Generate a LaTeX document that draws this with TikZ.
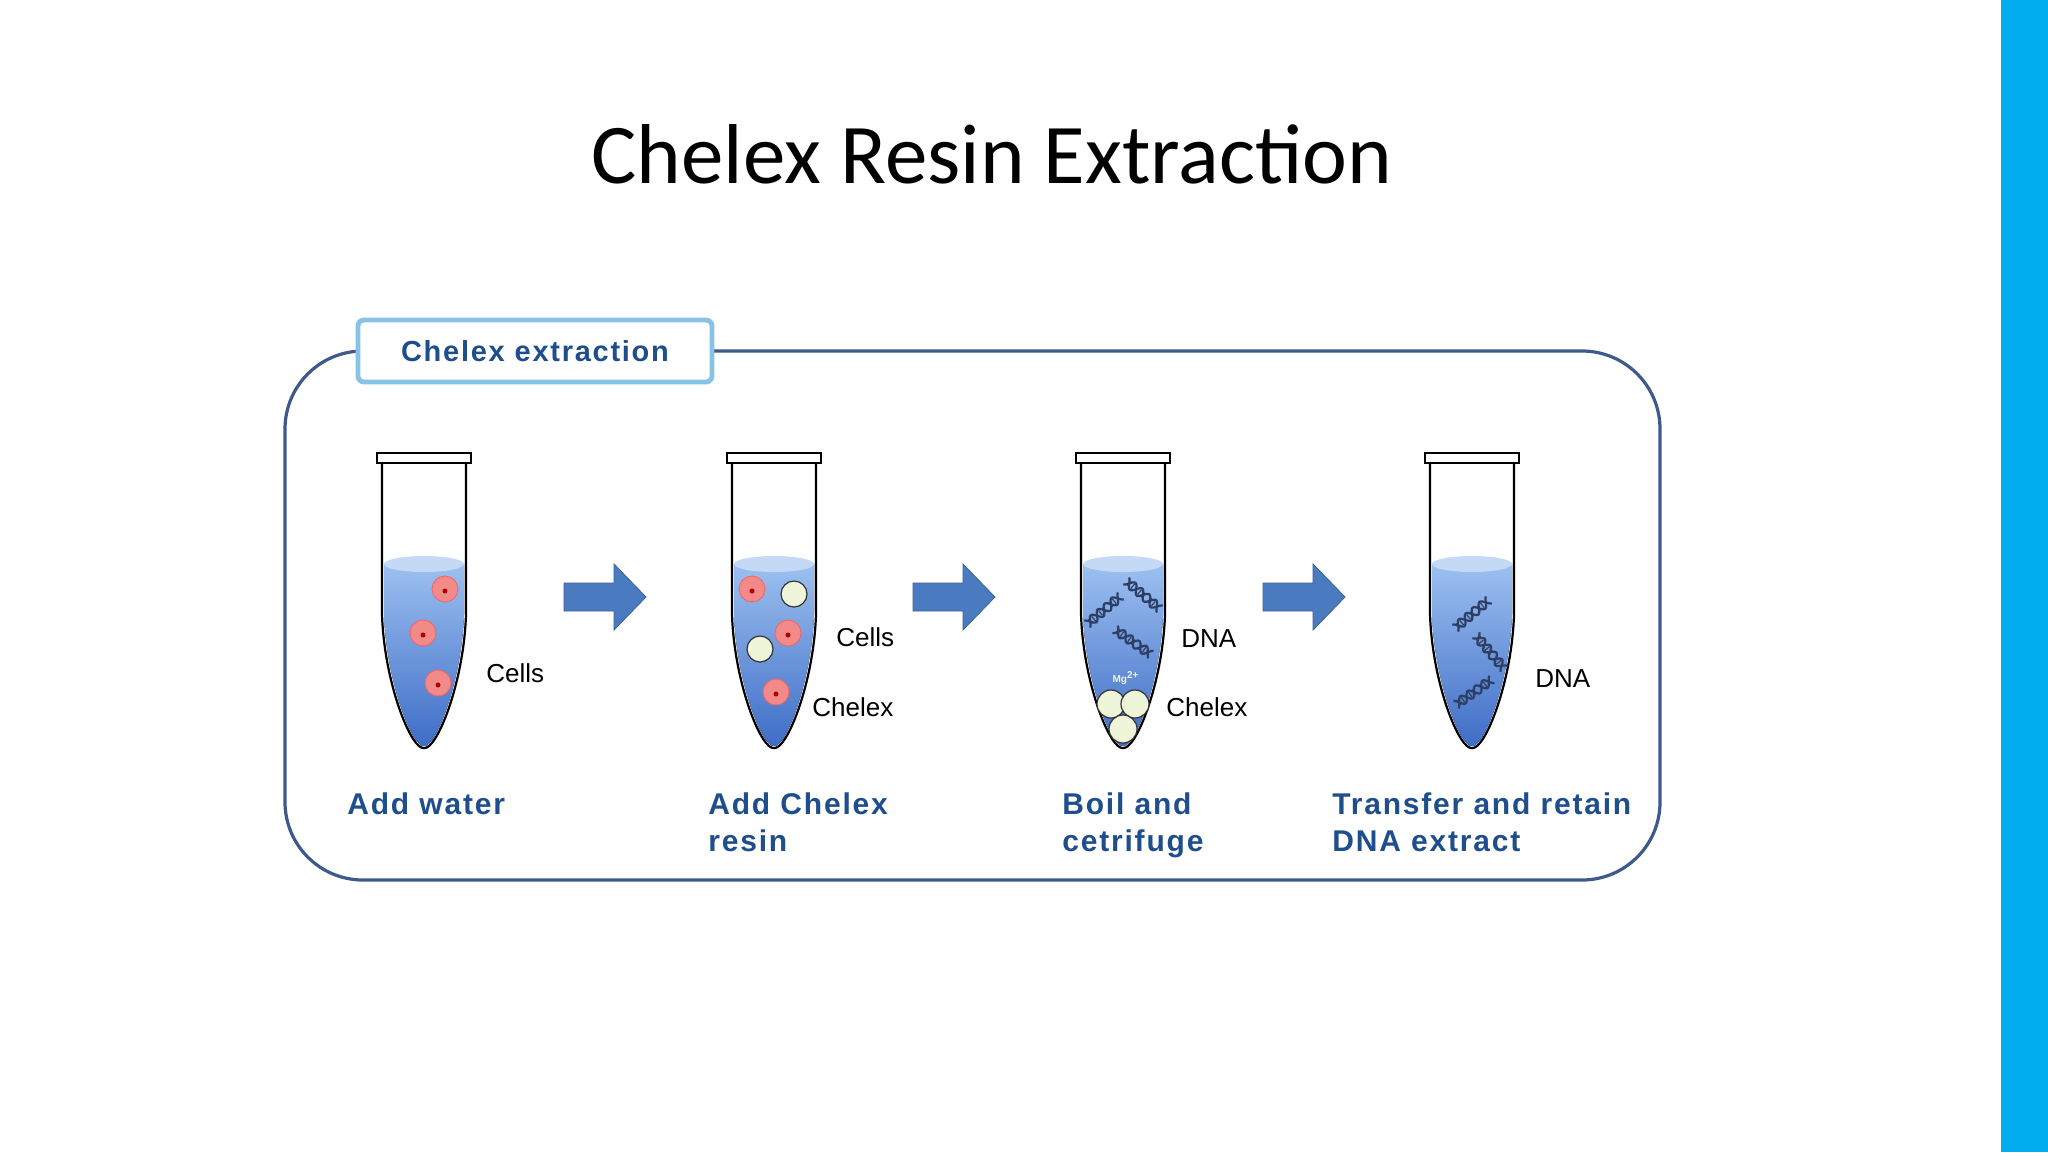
\documentclass[tikz,border=0pt]{standalone}
\usepackage{fontspec}
\setmainfont{Liberation Sans}
\newfontfamily\titlefont{Carlito}
\newfontfamily\widebold[LetterSpace=6]{Liberation Sans}
\begin{document}
\begin{tikzpicture}[x=0.5pt,y=-0.5pt,
  frameline/.style={draw=frameblue,line width=1.6pt},
  steplabel/.style={anchor=north west,align=left,font=\widebold\fontsize{15}{18.5}\selectfont\bfseries,text=labelblue,inner sep=0pt},
  sidelabel/.style={anchor=west,font=\fontsize{13}{15}\selectfont,inner sep=0pt},
  cell/.style={fill=cellpink,draw=cellpink!70!red},
  bead/.style={fill=beadcol,draw=black!80,line width=0.6pt},
  flowarrow/.style={fill=arrowblue,draw=arrowblue!80!black,line width=0.4pt},
  dnahelix/.pic={
    \draw[helixcol,line width=1.1pt,domain=-22:22,samples=50] plot(\x,{4.5*sin(\x*20)});
    \draw[helixcol,line width=1.1pt,domain=-22:22,samples=50] plot(\x,{-4.5*sin(\x*20)});
    \foreach \k in {-18,-13.5,-4.5,0,9,13.5} \draw[helixcol,line width=0.6pt] (\k,-3)--(\k,3);
  }]
\definecolor{frameblue}{HTML}{3D5A8A}
\definecolor{labelblue}{HTML}{1F4E8C}
\definecolor{arrowblue}{HTML}{4A7BC0}
\definecolor{liqtop}{HTML}{9CC0F0}
\definecolor{liqbot}{HTML}{3E6CC6}
\definecolor{cellpink}{HTML}{F28A8A}
\definecolor{beadcol}{HTML}{EEF5D8}
\definecolor{helixcol}{HTML}{2E3F66}
\definecolor{sidebar}{HTML}{00ADEF}
\definecolor{hdrborder}{HTML}{86C3E6}
\useasboundingbox (0,0) rectangle (2048,1152);
\fill[white] (0,0) rectangle (2048,1152);
\fill[sidebar] (2001,0) rectangle (2048,1152);
\node[font=\titlefont\fontsize{42.5}{50}\selectfont] (title) at (992,154) {Chelex Resin Extraction};
% frame
\draw[frameline,rounded corners=39pt] (712,351) -- (1660,351) -- (1660,880) -- (285,880) -- (285,351) -- (358,351);
\node[draw=hdrborder,line width=2.4pt,fill=white,rounded corners=3pt,minimum width=177pt,minimum height=31pt,
  font=\widebold\fontsize{14.5}{17}\selectfont\bfseries,text=labelblue] (hdr) at (535,351) {Chelex extraction};
% tubes
\foreach \cx/\nm in {424/t1,774/t2,1123/t3,1472/t4}{
  \fill[top color=liqtop,bottom color=liqbot] (\cx-40,564) -- (\cx-40,614) .. controls (\cx-38,680) and (\cx-12,748) .. (\cx,746) .. controls (\cx+12,748) and (\cx+38,680) .. (\cx+40,614) -- (\cx+40,564) -- cycle;
  \fill[liqtop!60!white] (\cx,564) ellipse (40 and 8);
  \draw[line width=1.1pt] (\cx-42,462) -- (\cx-42,614) .. controls (\cx-40,682) and (\cx-13,750) .. (\cx,748) .. controls (\cx+13,750) and (\cx+40,682) .. (\cx+42,614) -- (\cx+42,462);
  \draw[line width=1.1pt,fill=white] (\cx-47,453) rectangle (\cx+47,463);
  \coordinate (\nm) at (\cx,600);
}
% cells
\foreach \p in {(445,589),(423,633),(438,683),(752,589),(788,633),(776,692)}{
  \fill[cell] \p circle (13);
  \fill[red!70!black] \p ++(0,2) circle (2.5);
}
\foreach \p in {(794,594),(760,649)} \draw[bead] \p circle (13);
% tube 3
\foreach \p/\a in {(1104,610)/40,(1143,595)/-40,(1133,642)/-35} \pic[rotate=\a] at \p {dnahelix};
\node[font=\fontsize{5}{6}\selectfont\bfseries,text=beadcol] (mg) at (1126,678) {Mg\textsuperscript{2+}};
\foreach \p in {(1111,704),(1135,704),(1123,729)} \draw[bead] \p circle (14);
% tube 4
\foreach \p/\a in {(1472,614)/40,(1490,652)/-50,(1474,692)/35} \pic[rotate=\a] at \p {dnahelix};
% arrows
\foreach \ax/\nm in {564/a1,913/a2,1263/a3}{
  \draw[flowarrow] (\ax,583) -- (\ax+50,583) -- (\ax+50,564) -- (\ax+82,597) -- (\ax+50,630) -- (\ax+50,611) -- (\ax,611) -- cycle;
  \coordinate (\nm) at (\ax+41,597);
}
% side labels
\node[sidelabel] (c1) at (486,673) {Cells};
\node[sidelabel] (c2) at (836,637) {Cells};
\node[sidelabel] (ch2) at (812,707) {Chelex};
\node[sidelabel] (d3) at (1181,639) {DNA};
\node[sidelabel] (ch3) at (1166,707) {Chelex};
\node[sidelabel] (d4) at (1535,679) {DNA};
% step labels
\node[steplabel] (s1) at (347,792) {Add water};
\node[steplabel] (s2) at (708,792) {Add Chelex\\resin};
\node[steplabel] (s3) at (1062,792) {Boil and\\cetrifuge};
\node[steplabel] (s4) at (1332,792) {Transfer and retain\\DNA extract};
\end{tikzpicture}
\end{document}
